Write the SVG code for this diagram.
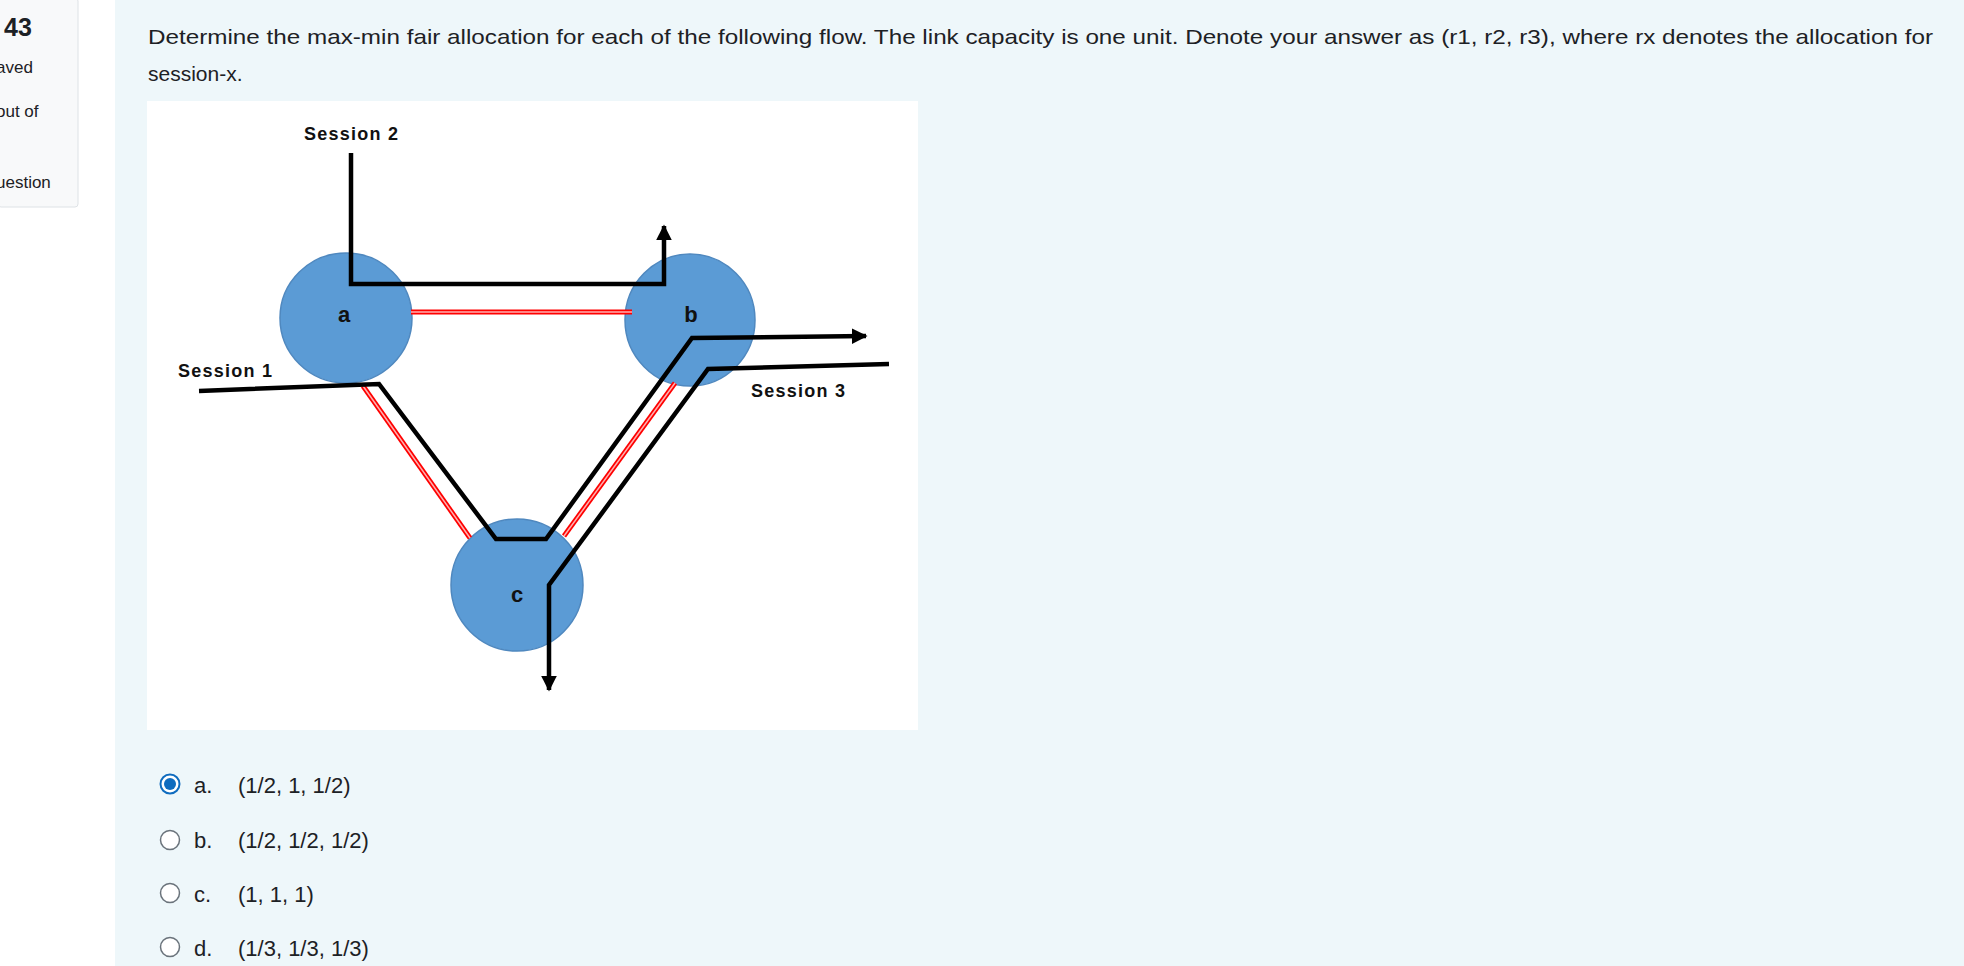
<svg xmlns="http://www.w3.org/2000/svg" width="1964" height="966" viewBox="0 0 1964 966">
<style>
.ui{font-family:"Liberation Sans",Arial,sans-serif;fill:#1d2125}
.lbl{font-family:"Liberation Sans",Arial,sans-serif;font-weight:bold;fill:#111}
.node{fill:#5b9bd5;stroke:#4f88bf;stroke-width:1.5}
.flow{fill:none;stroke:#000;stroke-width:4.5;stroke-linejoin:miter}
.red{stroke:#ff0000;stroke-width:5;fill:none}
.redc{stroke:#ffb0b0;stroke-width:1.5;fill:none}
</style>
<defs>
<marker id="ar" viewBox="0 0 10 10" refX="9" refY="5" markerWidth="3.5" markerHeight="3.5" orient="auto" markerUnits="strokeWidth">
<path d="M0,0 L10,5 L0,10 z" fill="#000"/>
</marker>
</defs>
<rect width="1964" height="966" fill="#ffffff"/>
<rect x="-2" y="-2" width="80" height="209" rx="3" fill="#f8f9fa" stroke="#dee2e6"/>
<text x="4" y="36" class="ui" font-size="25" font-weight="bold">43</text>
<text x="-4" y="73" class="ui" font-size="17">aved</text>
<text x="-4" y="117" class="ui" font-size="17">out of</text>
<text x="-4" y="188" class="ui" font-size="17">uestion</text>
<rect x="115" y="0" width="1849" height="966" fill="#eef7fa"/>
<text x="148" y="44" class="ui" font-size="21" textLength="1785" lengthAdjust="spacingAndGlyphs">Determine the max-min fair allocation for each of the following flow.   The link capacity is one unit.  Denote your answer as (r1, r2, r3), where rx denotes the allocation for</text>
<text x="148" y="81" class="ui" font-size="21">session-x.</text>
<rect x="147" y="101" width="771" height="629" fill="#ffffff"/>
<g id="node-a"><ellipse class="node" cx="346" cy="318" rx="66" ry="65"/><text x="344" y="322" class="lbl" font-size="22" text-anchor="middle">a</text></g>
<g id="node-b"><ellipse class="node" cx="690" cy="320" rx="65" ry="66"/><text x="691" y="322" class="lbl" font-size="22" text-anchor="middle">b</text></g>
<g id="node-c"><ellipse class="node" cx="517" cy="585" rx="66" ry="66"/><text x="517" y="602" class="lbl" font-size="22" text-anchor="middle">c</text></g>
<g id="connectors">
<line class="red" x1="411" y1="312" x2="632" y2="312"/><line class="redc" x1="411" y1="312" x2="632" y2="312"/>
<line class="red" x1="363" y1="386" x2="470" y2="538"/><line class="redc" x1="363" y1="386" x2="470" y2="538"/>
<line class="red" x1="675" y1="383" x2="564" y2="536"/><line class="redc" x1="675" y1="383" x2="564" y2="536"/>
<polyline class="flow" points="351,153 351,284 664,284 664,226" marker-end="url(#ar)"/>
<polyline class="flow" points="199,391 379,384 496,539 546,539 692,338 866,336" marker-end="url(#ar)"/>
<polyline class="flow" points="889,364 708,369 549,585 549,690" marker-end="url(#ar)"/>
</g>
<text x="304" y="140" class="lbl" font-size="18" textLength="94">Session 2</text>
<text x="178" y="377" class="lbl" font-size="18" textLength="94">Session 1</text>
<text x="751" y="397" class="lbl" font-size="18" textLength="94">Session 3</text>
<circle cx="170" cy="784" r="9.5" fill="#fff" stroke="#0f6cbf" stroke-width="2"/>
<circle cx="170" cy="784" r="6" fill="#0f6cbf"/>
<circle cx="170" cy="840" r="9.5" fill="#fff" stroke="#6a737b" stroke-width="1.5"/>
<circle cx="170" cy="893" r="9.5" fill="#fff" stroke="#6a737b" stroke-width="1.5"/>
<circle cx="170" cy="947" r="9.5" fill="#fff" stroke="#6a737b" stroke-width="1.5"/>
<text x="194" y="793" class="ui" font-size="22">a.</text><text x="238" y="793" class="ui" font-size="22">(1/2, 1, 1/2)</text>
<text x="194" y="848" class="ui" font-size="22">b.</text><text x="238" y="848" class="ui" font-size="22">(1/2, 1/2, 1/2)</text>
<text x="194" y="902" class="ui" font-size="22">c.</text><text x="238" y="902" class="ui" font-size="22">(1, 1, 1)</text>
<text x="194" y="956" class="ui" font-size="22">d.</text><text x="238" y="956" class="ui" font-size="22">(1/3, 1/3, 1/3)</text>
</svg>
